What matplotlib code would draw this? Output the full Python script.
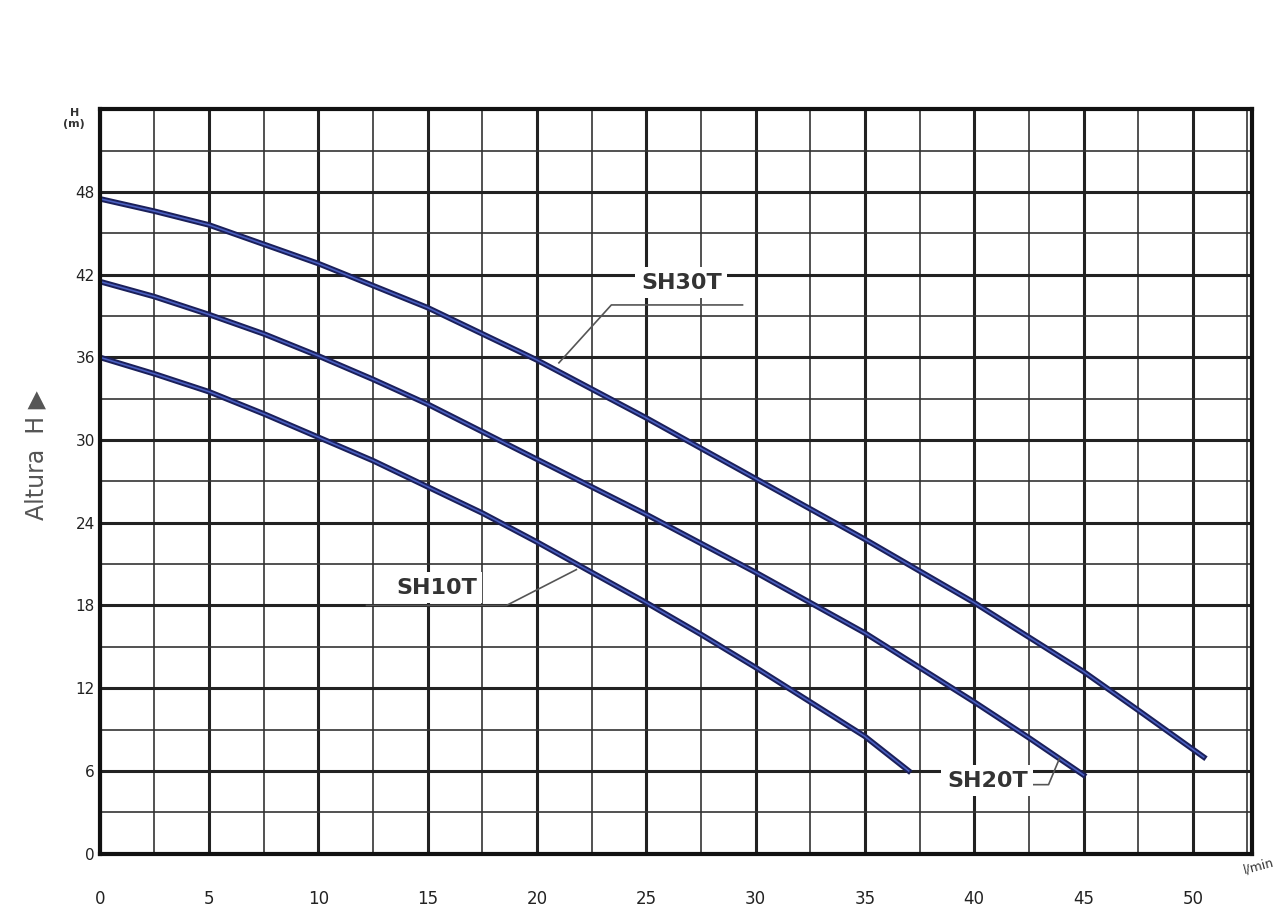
import matplotlib
matplotlib.use("Agg")
import matplotlib.pyplot as plt
import numpy as np

q30 = [0, 2.5, 5, 7.5, 10, 12.5, 15, 17.5, 20, 22.5, 25, 27.5, 30, 32.5, 35, 37.5, 40, 42.5, 45, 47.5, 50.5]
h30 = [47.5, 46.6, 45.6, 44.2, 42.8, 41.2, 39.6, 37.7, 35.8, 33.7, 31.6, 29.4, 27.2, 25.0, 22.8, 20.5, 18.2, 15.7, 13.2, 10.4, 7.0]
q20 = [0, 2.5, 5, 7.5, 10, 12.5, 15, 17.5, 20, 22.5, 25, 27.5, 30, 32.5, 35, 37.5, 40, 42.5, 45]
h20 = [41.5, 40.4, 39.1, 37.7, 36.1, 34.4, 32.6, 30.6, 28.6, 26.6, 24.6, 22.5, 20.4, 18.2, 16.0, 13.5, 11.0, 8.4, 5.7]
q10 = [0, 2.5, 5, 7.5, 10, 12.5, 15, 17.5, 20, 22.5, 25, 27.5, 30, 32.5, 35, 37]
h10 = [36.0, 34.8, 33.5, 31.9, 30.2, 28.5, 26.6, 24.7, 22.6, 20.4, 18.2, 15.9, 13.5, 11.0, 8.5, 6.0]

xt = [0, 5, 10, 15, 20, 25, 30, 35, 40, 45, 50]
yt = [0, 6, 12, 18, 24, 30, 36, 42, 48]

fig = plt.figure(figsize=(12.8, 9.1), dpi=100)
ax = fig.add_axes([0.078, 0.062, 0.90, 0.818])
ax.set_xlim(0, 52.7)
ax.set_ylim(0, 54)
ax.set_xticks(xt)
ax.set_xticks(np.arange(0, 52.7, 2.5), minor=True)
ax.set_yticks(yt)
ax.set_yticks(np.arange(0, 54.1, 3), minor=True)
ax.grid(which='major', color='#222222', lw=2.2)
ax.grid(which='minor', color='#333333', lw=1.2)
for s in ax.spines.values():
    s.set_linewidth(3)
    s.set_color('#111111')
ax.tick_params(which='both', length=0, labelsize=11, colors='#222222')
ax.set_yticklabels([str(v) for v in yt], fontfamily='Liberation Sans Narrow')
ax.tick_params(axis='x', pad=26, labelsize=12)

for q, h in [(q30, h30), (q20, h20), (q10, h10)]:
    ax.plot(q, h, color='#1a1f5a', lw=4, solid_joinstyle='round')
    ax.plot(q, h, color='#4a5fc0', lw=1.2, solid_joinstyle='round')

box = dict(boxstyle='square,pad=0.25', fc='white', ec='none')
ax.plot([21, 23.4, 29.4], [35.6, 39.8, 39.8], color='#555555', lw=1.2)
ax.text(26.6, 41.4, 'SH30T', fontsize=16, fontweight='bold', ha='center', va='center', color='#333333', bbox=box)
ax.plot([12.2, 18.6, 21.8], [18.0, 18.0, 20.6], color='#555555', lw=1.2)
ax.text(15.4, 19.3, 'SH10T', fontsize=16, fontweight='bold', ha='center', va='center', color='#333333', bbox=box)
ax.plot([42.7, 43.4, 43.9], [5.0, 5.0, 6.9], color='#555555', lw=1.2)
ax.text(40.6, 5.3, 'SH20T', fontsize=16, fontweight='bold', ha='center', va='center', color='#333333', bbox=box)

fig.text(0.058, 0.86, 'H\n(m)', fontsize=8, fontweight='bold', ha='center', color='#333333')
fig.text(0.028, 0.5, 'Altura  H \u25B6', rotation=90, fontsize=17, ha='center', va='center', color='#555555')
fig.text(0.983, 0.04, 'l/min', fontsize=9, ha='center', color='#333333', rotation=15)
fig.savefig('out.png', facecolor='white')
